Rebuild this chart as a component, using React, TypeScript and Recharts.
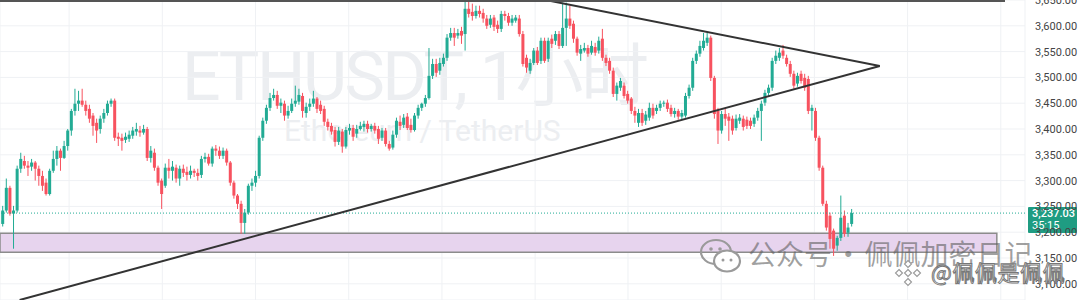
import React from "react";
import {
  ComposedChart,
  Bar,
  XAxis,
  YAxis,
  CartesianGrid,
  ReferenceLine,
  ReferenceArea,
} from "recharts";

// ETHUSDT 1h candles as [open, high, low, close]
const leftSwing: [number, number, number, number][] = [
  [3216, 3251, 3211, 3242], [3242, 3304, 3238, 3286], [3286, 3290, 3232, 3236], [3236, 3251, 3168, 3242],
  [3242, 3329, 3238, 3323], [3323, 3354, 3315, 3342], [3338, 3348, 3323, 3329], [3329, 3338, 3309, 3325],
  [3327, 3342, 3319, 3335], [3335, 3338, 3300, 3323], [3323, 3329, 3290, 3309], [3309, 3319, 3280, 3290],
  [3296, 3304, 3271, 3274], [3274, 3323, 3271, 3319], [3319, 3358, 3315, 3342], [3342, 3367, 3329, 3358],
  [3358, 3362, 3319, 3344], [3344, 3377, 3342, 3367], [3367, 3400, 3358, 3397], [3397, 3439, 3387, 3435],
  [3435, 3478, 3426, 3449], [3449, 3474, 3435, 3455], [3455, 3478, 3443, 3447], [3447, 3455, 3426, 3435],
  [3439, 3447, 3412, 3420], [3426, 3431, 3387, 3406], [3412, 3420, 3373, 3397], [3400, 3426, 3391, 3420],
  [3420, 3439, 3412, 3431], [3431, 3455, 3426, 3449], [3449, 3459, 3443, 3455], [3455, 3459, 3377, 3383],
  [3385, 3393, 3367, 3381], [3383, 3391, 3358, 3377], [3379, 3393, 3373, 3385], [3381, 3397, 3375, 3389],
  [3387, 3404, 3381, 3397], [3395, 3412, 3387, 3400], [3397, 3406, 3385, 3393], [3393, 3408, 3389, 3400],
];

const firstDip: [number, number, number, number][] = [
  [3400, 3404, 3338, 3344], [3344, 3367, 3335, 3358], [3354, 3362, 3319, 3325], [3325, 3329, 3290, 3296],
  [3300, 3304, 3245, 3274], [3290, 3333, 3286, 3325], [3325, 3342, 3304, 3319], [3319, 3338, 3300, 3327],
  [3325, 3331, 3296, 3304], [3304, 3329, 3290, 3323], [3323, 3331, 3307, 3315], [3317, 3327, 3300, 3311],
  [3311, 3329, 3304, 3319], [3319, 3323, 3307, 3315], [3315, 3323, 3300, 3309], [3311, 3348, 3305, 3342],
  [3342, 3354, 3335, 3346], [3346, 3352, 3329, 3333], [3333, 3366, 3327, 3362], [3362, 3369, 3348, 3358],
  [3358, 3366, 3342, 3348], [3348, 3364, 3342, 3358], [3358, 3362, 3329, 3335], [3335, 3338, 3290, 3296],
  [3296, 3300, 3265, 3271], [3271, 3274, 3245, 3255], [3255, 3261, 3197, 3218], [3218, 3245, 3197, 3238],
  [3238, 3294, 3234, 3290], [3290, 3304, 3280, 3296], [3296, 3319, 3288, 3309], [3309, 3387, 3304, 3383],
  [3383, 3422, 3377, 3416], [3416, 3447, 3410, 3441], [3441, 3470, 3435, 3460], [3460, 3478, 3455, 3466],
  [3466, 3474, 3439, 3445], [3445, 3459, 3431, 3451],
];

const midRange: [number, number, number, number][] = [
  [3449, 3455, 3416, 3426], [3426, 3445, 3420, 3435], [3435, 3459, 3431, 3449], [3449, 3484, 3443, 3455],
  [3453, 3478, 3447, 3466], [3464, 3470, 3422, 3435], [3431, 3451, 3422, 3443], [3443, 3459, 3435, 3449],
  [3449, 3474, 3443, 3459], [3459, 3462, 3431, 3439], [3447, 3455, 3429, 3435], [3439, 3445, 3406, 3414],
  [3414, 3420, 3397, 3404], [3406, 3412, 3389, 3395], [3398, 3404, 3366, 3375], [3375, 3404, 3369, 3397],
  [3395, 3400, 3354, 3366], [3366, 3404, 3362, 3398], [3397, 3410, 3389, 3402], [3402, 3408, 3377, 3385],
  [3391, 3408, 3383, 3400], [3400, 3414, 3397, 3406], [3404, 3416, 3395, 3410], [3410, 3416, 3393, 3400],
  [3400, 3410, 3395, 3406], [3406, 3412, 3391, 3397], [3400, 3406, 3371, 3381], [3383, 3402, 3377, 3397],
  [3397, 3402, 3366, 3371], [3371, 3377, 3358, 3362], [3364, 3397, 3360, 3389], [3389, 3422, 3383, 3416],
  [3414, 3426, 3398, 3406], [3408, 3429, 3402, 3422], [3424, 3431, 3398, 3402], [3408, 3420, 3393, 3398],
  [3398, 3431, 3395, 3426], [3426, 3447, 3420, 3441], [3441, 3451, 3435, 3449], [3449, 3466, 3443, 3460],
];

const topRange: [number, number, number, number][] = [
  [3460, 3557, 3457, 3503], [3503, 3536, 3497, 3526], [3526, 3536, 3501, 3509], [3513, 3538, 3505, 3528],
  [3526, 3546, 3521, 3538], [3538, 3584, 3532, 3577], [3577, 3596, 3571, 3586], [3586, 3596, 3561, 3577],
  [3581, 3594, 3575, 3586], [3590, 3598, 3565, 3581], [3584, 3648, 3552, 3633], [3633, 3648, 3616, 3623],
  [3627, 3643, 3610, 3619], [3619, 3639, 3614, 3629], [3629, 3639, 3616, 3623], [3625, 3633, 3606, 3614],
  [3614, 3621, 3594, 3600], [3602, 3621, 3596, 3614], [3616, 3621, 3590, 3598], [3602, 3610, 3586, 3594],
  [3594, 3629, 3588, 3623], [3623, 3629, 3610, 3619], [3619, 3625, 3600, 3606], [3606, 3621, 3600, 3614],
  [3610, 3621, 3606, 3616], [3614, 3621, 3579, 3584], [3584, 3590, 3521, 3526], [3538, 3544, 3509, 3519],
  [3513, 3536, 3507, 3528], [3528, 3557, 3524, 3552], [3552, 3559, 3524, 3528], [3532, 3577, 3526, 3571],
  [3571, 3577, 3528, 3532], [3536, 3577, 3530, 3571], [3575, 3583, 3557, 3565], [3571, 3590, 3563, 3584],
  [3584, 3590, 3555, 3561],
];

const triangleSwing: [number, number, number, number][] = [
  [3561, 3645, 3557, 3596], [3596, 3645, 3561, 3614], [3614, 3639, 3594, 3600], [3604, 3610, 3567, 3575],
  [3575, 3579, 3542, 3548], [3546, 3563, 3532, 3555], [3552, 3567, 3548, 3557], [3557, 3563, 3540, 3546],
  [3548, 3571, 3544, 3561], [3559, 3567, 3542, 3548], [3552, 3579, 3546, 3571], [3575, 3594, 3532, 3538],
  [3538, 3544, 3522, 3528], [3532, 3538, 3507, 3513], [3513, 3519, 3462, 3468], [3468, 3490, 3455, 3484],
  [3480, 3499, 3474, 3493], [3484, 3490, 3459, 3464], [3468, 3474, 3449, 3455], [3459, 3462, 3429, 3435],
  [3435, 3443, 3412, 3426], [3412, 3439, 3404, 3431], [3431, 3439, 3406, 3412], [3416, 3435, 3408, 3428],
  [3422, 3451, 3416, 3441], [3441, 3449, 3420, 3426], [3435, 3447, 3429, 3441], [3441, 3455, 3435, 3449],
  [3449, 3455, 3443, 3451], [3451, 3457, 3433, 3439], [3441, 3447, 3424, 3429], [3429, 3441, 3422, 3435],
  [3435, 3439, 3418, 3424], [3424, 3437, 3418, 3431], [3426, 3470, 3422, 3464], [3464, 3486, 3459, 3480],
  [3480, 3538, 3474, 3532], [3532, 3552, 3526, 3546], [3546, 3571, 3540, 3561], [3557, 3586, 3552, 3571],
  [3567, 3586, 3561, 3577],
];

const breakdown: [number, number, number, number][] = [
  [3577, 3581, 3493, 3499], [3499, 3503, 3420, 3429], [3435, 3441, 3371, 3397], [3397, 3435, 3391, 3429],
  [3429, 3439, 3406, 3420], [3424, 3431, 3377, 3416], [3420, 3426, 3389, 3397], [3402, 3428, 3397, 3420],
  [3416, 3429, 3410, 3422], [3420, 3426, 3397, 3404], [3418, 3424, 3400, 3406], [3416, 3422, 3400, 3406],
  [3410, 3428, 3404, 3422], [3422, 3441, 3416, 3435], [3435, 3455, 3377, 3449], [3451, 3476, 3445, 3470],
  [3470, 3486, 3464, 3480], [3480, 3538, 3474, 3532], [3532, 3552, 3526, 3542], [3538, 3557, 3532, 3548],
  [3552, 3563, 3536, 3542], [3538, 3544, 3521, 3526], [3526, 3532, 3501, 3507], [3507, 3513, 3478, 3484],
  [3488, 3509, 3482, 3503], [3507, 3513, 3488, 3493], [3499, 3507, 3474, 3480], [3497, 3503, 3429, 3435],
  [3435, 3447, 3397, 3441], [3435, 3441, 3377, 3383], [3383, 3387, 3319, 3325], [3325, 3329, 3251, 3255],
  [3255, 3261, 3203, 3209], [3232, 3238, 3168, 3187], [3203, 3207, 3154, 3168], [3174, 3193, 3164, 3189],
  [3189, 3271, 3183, 3228], [3232, 3242, 3191, 3197], [3199, 3218, 3191, 3209], [3216, 3245, 3211, 3237.03],
];

const priceTicks = [3100, 3150, 3200, 3250, 3300, 3350, 3400, 3450, 3500, 3550, 3600, 3650];
const timeGridTicks = [18.3, 44.1, 69.9, 95.7, 121.5, 147.3, 173.0, 198.8, 224.6, 250.4, 276.2];
const lastPrice = 3237.03;
const countdown = "35:15";
const supportZone = { low: 3161, high: 3198 };
// trendlines as [candle index, price]
const upperTrend: [number, number][] = [[143.0, 3660], [242.7, 3522]];
const lowerTrend: [number, number][] = [[4.6, 3068.6], [242.7, 3522]];

const allCandles = [...leftSwing, ...firstDip, ...midRange, ...topRange, ...triangleSwing, ...breakdown];
const candles = allCandles.map(([o, h, l, c], i) => ({ i, o, h, l, c, range: [l, h] }));

const GREEN = "#22ab94";
const RED = "#f7525f";

const fmt = (v: number) =>
  v.toLocaleString("en-US", { minimumFractionDigits: 2, maximumFractionDigits: 2 });

function Candle(props: any) {
  const { x, y, width, height, payload } = props;
  if (!payload) return null;
  const { o, h, l, c } = payload;
  const color = c >= o ? GREEN : RED;
  const top = Math.min(y, y + height);
  const hgt = Math.abs(height);
  const k = hgt / (h - l || 1);
  const bTop = top + (h - Math.max(o, c)) * k;
  const bBot = top + (h - Math.min(o, c)) * k;
  const cx = x + width / 2;
  return (
    <g>
      <line x1={cx} x2={cx} y1={top} y2={top + hgt} stroke={color} strokeWidth={1} />
      <rect x={x} y={bTop} width={width} height={Math.max(1, bBot - bTop)} fill={color} />
    </g>
  );
}

function PriceTick(props: any) {
  const { x, y, payload } = props;
  return (
    <text x={x} y={y} dy={4} fill="#444" fontSize={11} fontFamily="Roboto" textAnchor="start">
      {fmt(payload.value)}
    </text>
  );
}

function PriceTag(props: any) {
  const vb = props.viewBox;
  if (!vb) return null;
  const x = vb.x + vb.width + 3;
  const y = vb.y;
  return (
    <g>
      <rect x={x} y={y - 6} width={49} height={26} fill="#1f9c82" rx={1} />
      <text x={x + 4} y={y + 4} fill="#fff" fontSize={11} fontFamily="Roboto" fontWeight={500}>
        {fmt(lastPrice)}
      </text>
      <text x={x + 4} y={y + 16} fill="#fff" fontSize={11} fontFamily="Roboto">
        {countdown}
      </text>
    </g>
  );
}

function WeChatIcon() {
  return (
    <svg width={46} height={40} style={{ position: "absolute", left: 698, top: 236 }}>
      <ellipse cx={18} cy={16} rx={15} ry={12} fill="none" stroke="#9a9a9a" strokeWidth={2.2} />
      <ellipse cx={29} cy={25} rx={13} ry={10.5} fill="#fff" stroke="#9a9a9a" strokeWidth={2.2} />
      <circle cx={13} cy={13} r={1.8} fill="#9a9a9a" />
      <circle cx={22} cy={13} r={1.8} fill="#9a9a9a" />
      <circle cx={25} cy={24} r={1.5} fill="#9a9a9a" />
      <circle cx={33} cy={24} r={1.5} fill="#9a9a9a" />
    </svg>
  );
}

function DiamondIcon() {
  const d = (cx: number, cy: number, r: number) =>
    `M${cx},${cy - r} L${cx + r},${cy} L${cx},${cy + r} L${cx - r},${cy} Z`;
  return (
    <svg width={28} height={28} style={{ position: "absolute", left: 894, top: 259 }}>
      <path d={d(14, 14, 3.5)} fill="#fff" stroke="#999" strokeWidth={1.1} />
      <path d={d(14, 5, 3.5)} fill="#fff" stroke="#999" strokeWidth={1.1} />
      <path d={d(14, 23, 3.5)} fill="#fff" stroke="#999" strokeWidth={1.1} />
      <path d={d(5, 14, 3.5)} fill="#fff" stroke="#999" strokeWidth={1.1} />
      <path d={d(23, 14, 3.5)} fill="#fff" stroke="#999" strokeWidth={1.1} />
    </svg>
  );
}

export default function App() {
  return (
    <div
      style={{
        position: "absolute",
        left: 0,
        top: 0,
        width: 1080,
        height: 300,
        background: "#fff",
        overflow: "hidden",
        fontFamily: "Roboto, 'Noto Sans CJK SC', sans-serif",
      }}
    >
      <div
        style={{
          position: "absolute",
          left: 182,
          top: 43,
          fontSize: 68,
          lineHeight: 1,
          letterSpacing: -2.5,
          color: "#eceef1",
          whiteSpace: "nowrap",
        }}
      >
        ETHUSDT, 1小时
      </div>
      <div
        style={{
          position: "absolute",
          left: 284,
          top: 116,
          fontSize: 30,
          lineHeight: 1,
          color: "#eceef1",
          whiteSpace: "nowrap",
        }}
      >
        Ethereum / TetherUS
      </div>
      <div style={{ position: "absolute", left: 0, top: 0 }}>
        <ComposedChart width={1080} height={300} data={candles} margin={{ top: 0, right: 0, bottom: 0, left: 0 }}>
          <CartesianGrid stroke="#eff1f4" />
          <XAxis type="number" dataKey="i" domain={[-0.83, 282.9]} ticks={timeGridTicks} hide allowDataOverflow />
          <YAxis
            orientation="right"
            type="number"
            domain={[3068.6, 3650]}
            ticks={priceTicks}
            interval={0}
            allowDataOverflow
            width={55}
            axisLine={false}
            tickLine={false}
            tickMargin={4}
            tick={<PriceTick />}
          />
          <ReferenceArea
            x1={-0.83}
            x2={275.1}
            y1={supportZone.low}
            y2={supportZone.high}
            fill="#e7d4ee"
            fillOpacity={1}
            stroke="#8c8c8c"
            strokeWidth={1.5}
          />
          <ReferenceLine y={lastPrice} stroke={GREEN} strokeDasharray="1 2" label={<PriceTag />} />
          <Bar dataKey="range" barSize={3} shape={<Candle />} isAnimationActive={false} />
          <ReferenceLine
            segment={upperTrend.map(([x, y]) => ({ x, y }))}
            stroke="#333"
            strokeWidth={2}
            ifOverflow="hidden"
          />
          <ReferenceLine
            segment={lowerTrend.map(([x, y]) => ({ x, y }))}
            stroke="#333"
            strokeWidth={2}
            ifOverflow="hidden"
          />
        </ComposedChart>
      </div>
      <div style={{ position: "absolute", left: 0, top: 0, width: 1005, height: 1.5, background: "#555" }} />
      <WeChatIcon />
      <div
        style={{
          position: "absolute",
          left: 748,
          top: 239,
          fontSize: 28,
          lineHeight: 1,
          color: "rgba(95,95,95,0.6)",
          fontFamily: "'Noto Sans CJK SC'",
          whiteSpace: "nowrap",
        }}
      >
        公众号<span style={{ margin: "0 -4px" }}> · </span>佩佩加密日记
      </div>
      <DiamondIcon />
      <div
        style={{
          position: "absolute",
          left: 931,
          top: 260,
          fontSize: 22,
          lineHeight: 1,
          letterSpacing: 0.6,
          color: "#fff",
          WebkitTextStroke: "1px #777",
          fontFamily: "'Noto Sans CJK SC'",
          whiteSpace: "nowrap",
        }}
      >
        @佩佩是佩佩
      </div>
    </div>
  );
}
